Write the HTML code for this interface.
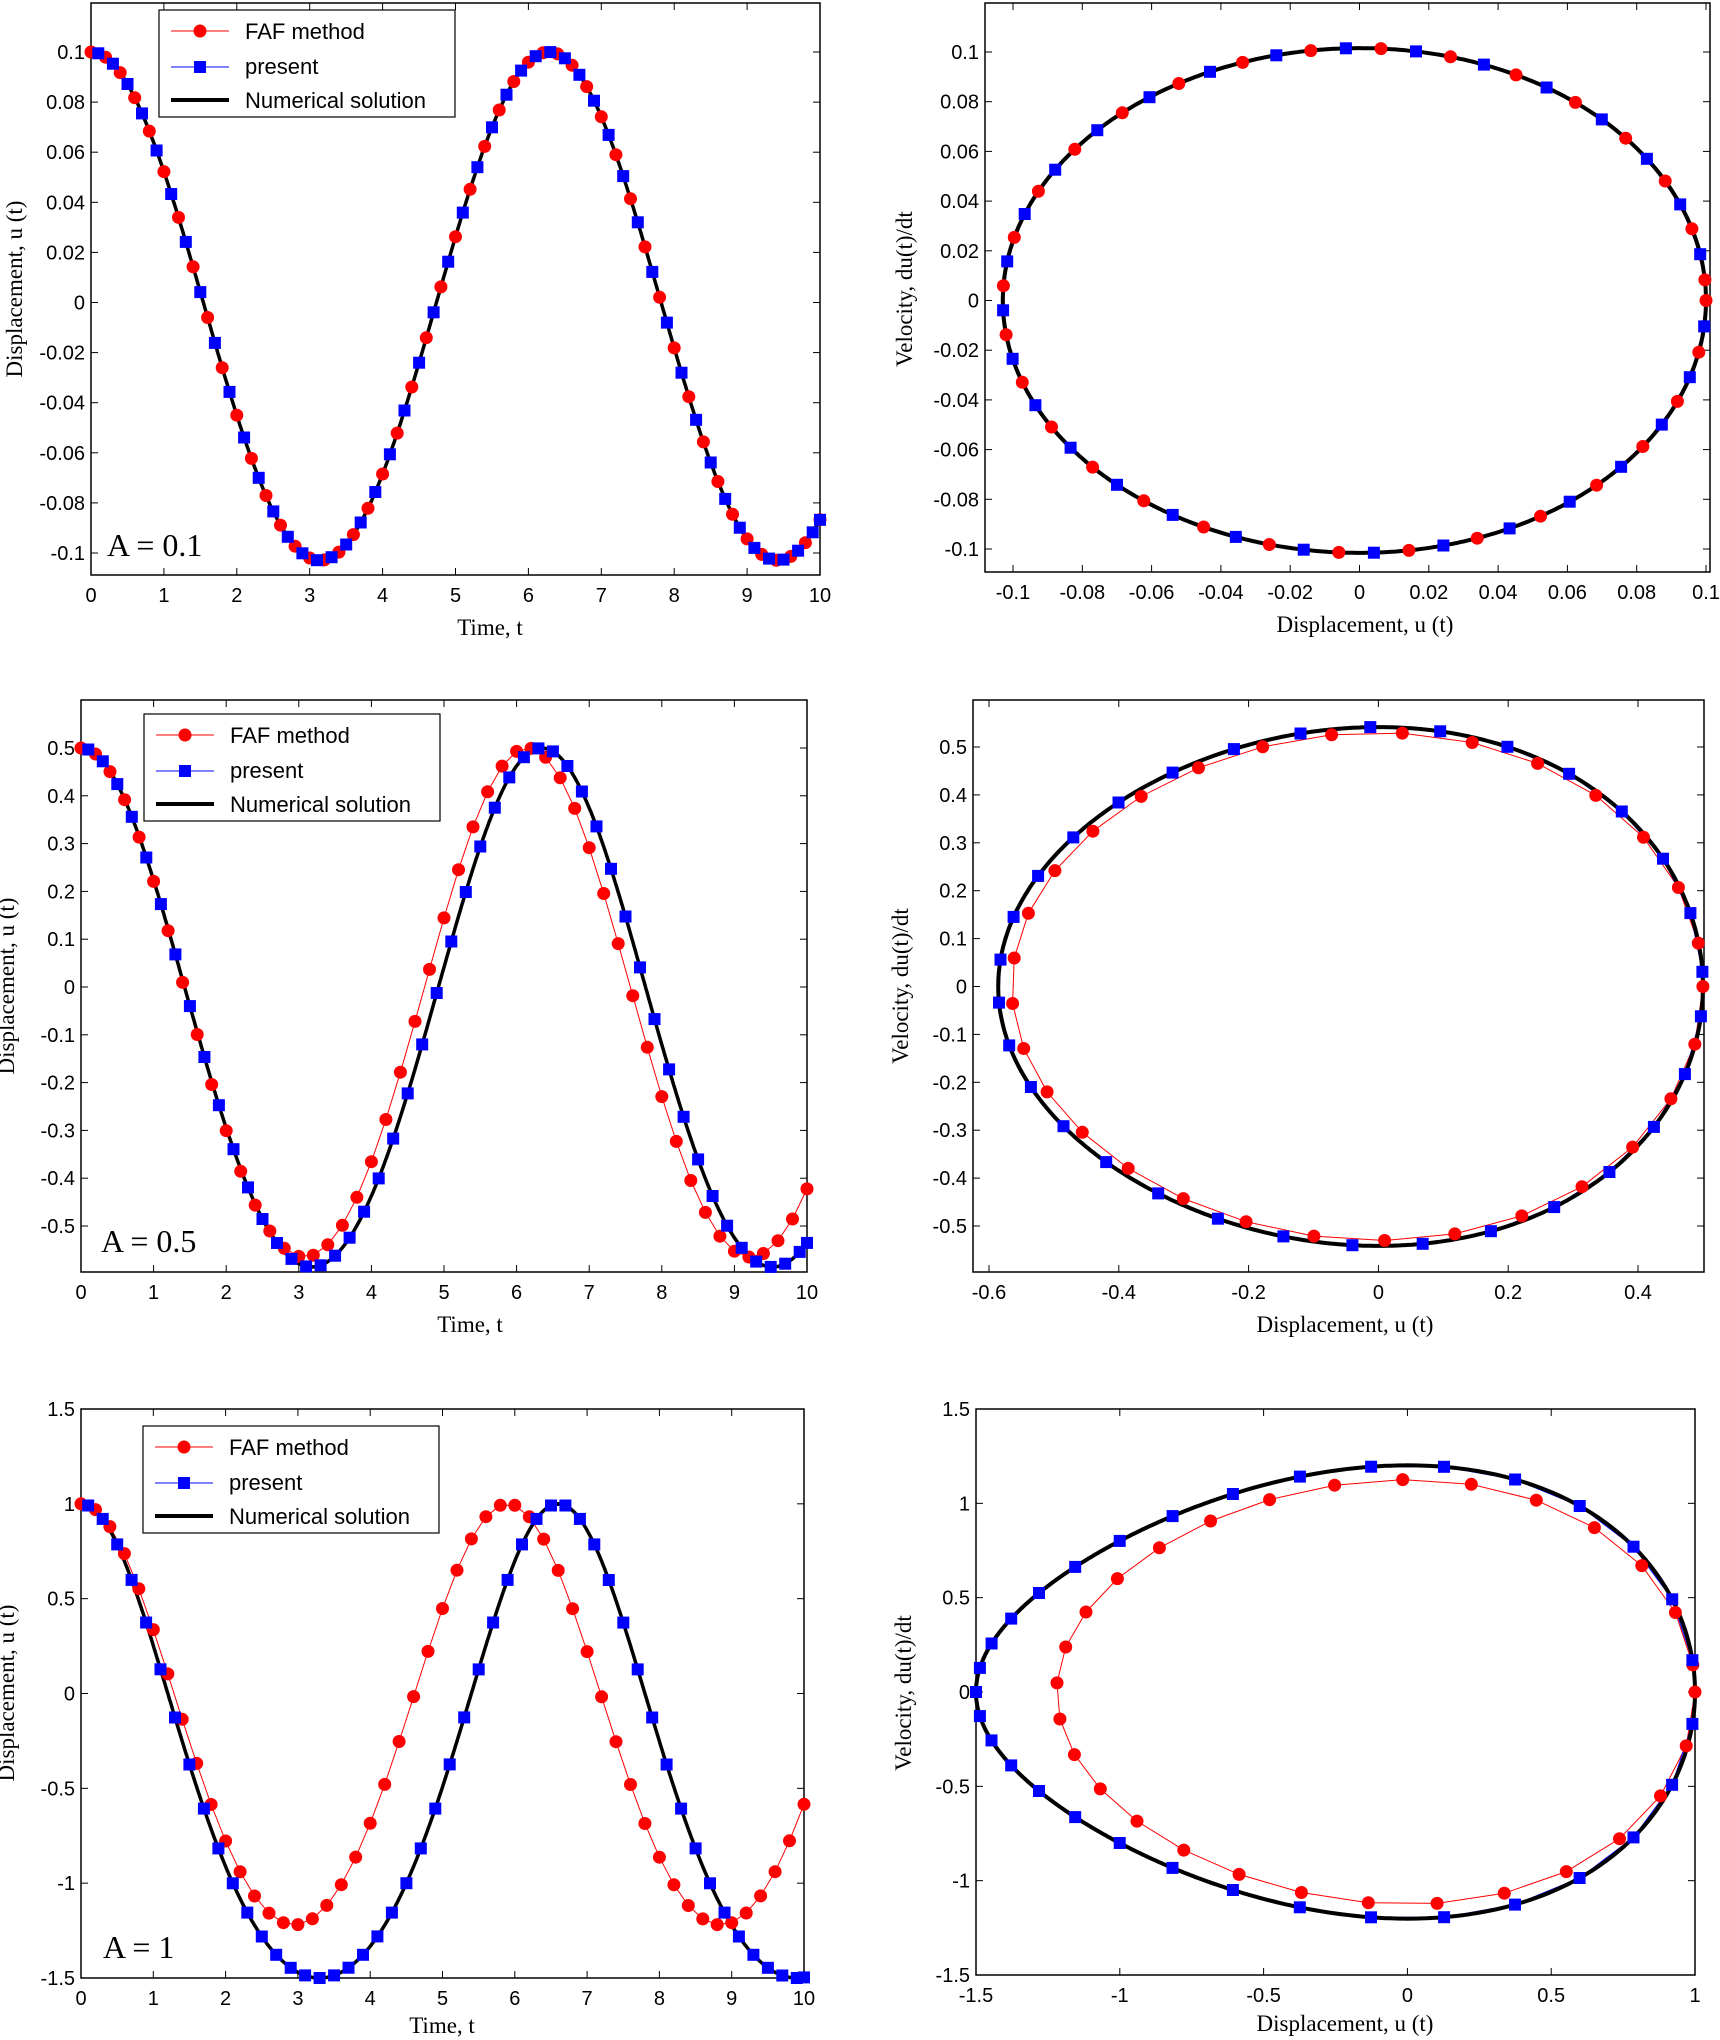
<!DOCTYPE html>
<html><head><meta charset="utf-8">
<style>
html,body{margin:0;padding:0;background:#fff;}
svg{display:block;}
.tk{font-family:"Liberation Sans",Arial,sans-serif;font-size:20px;fill:#000;}
.lb{font-family:"Liberation Serif","DejaVu Serif",serif;font-size:23px;fill:#000;}
.lg{font-family:"Liberation Sans",Arial,sans-serif;font-size:22px;fill:#000;}
.an{font-family:"Liberation Serif","DejaVu Serif",serif;font-size:32px;fill:#000;}
</style></head>
<body>
<svg id="s" width="1720" height="2040" viewBox="0 0 1720 2040" xmlns="http://www.w3.org/2000/svg"></svg>
<script>
const S=document.getElementById('s');
let out='';
function integ(alpha,A,T,tmax,vs){
  const dt=0.0005;let u=A,v=0,t=0,wasNeg=false,TU=0;
  const f=(u)=>-u-alpha*u*u;
  function step(){const k1u=v,k1v=f(u);const k2u=v+dt/2*k1v,k2v=f(u+dt/2*k1u);
    const k3u=v+dt/2*k2v,k3v=f(u+dt/2*k2u);const k4u=v+dt*k3v,k4v=f(u+dt*k3u);
    u+=dt/6*(k1u+2*k2u+2*k3u+k4u);v+=dt/6*(k1v+2*k2v+2*k3v+k4v);t+=dt;}
  while(true){const vp=v;step();if(v<0)wasNeg=true;if(wasNeg&&vp>0&&v<=0){TU=t;break;}if(t>50)break;}
  const k=TU/T;
  u=A;v=0;t=0;const U=[],V=[];
  const N=Math.ceil(tmax*k/dt)+2;
  for(let i=0;i<N;i++){U.push(u);V.push(v);step();}
  return (tt)=>{const idx=Math.min(Math.round(tt*k/dt),N-1);return [U[idx],V[idx]*k*vs];};
}
function mk(x0,v0,x1,v1,y0,w0,y1,w1){return {X:(x)=>x0+(x-v0)*(x1-x0)/(v1-v0),Y:(y)=>y0+(y-w0)*(y1-y0)/(w1-w0)};}
function line(pts,color,w){out+=`<polyline fill="none" stroke="${color}" stroke-width="${w}" stroke-linejoin="round" points="${pts.map(p=>p[0].toFixed(1)+','+p[1].toFixed(1)).join(' ')}"/>`;}
function circ(x,y){out+=`<circle cx="${x.toFixed(1)}" cy="${y.toFixed(1)}" r="6.5" fill="#ff0000"/>`;}
function sq(x,y){out+=`<rect x="${(x-6).toFixed(1)}" y="${(y-6).toFixed(1)}" width="12" height="12" fill="#0000ff"/>`;}
function axes(b,m,xt,yt,xfmt,yfmt){
  out+=`<rect x="${b.L}" y="${b.T}" width="${b.R-b.L}" height="${b.B-b.T}" fill="none" stroke="#000" stroke-width="1.5"/>`;
  for(const x of xt){const px=m.X(x);out+=`<line x1="${px}" y1="${b.B}" x2="${px}" y2="${b.B-7}" stroke="#000"/><line x1="${px}" y1="${b.T}" x2="${px}" y2="${b.T+7}" stroke="#000"/>`;
    out+=`<text class="tk" x="${px}" y="${b.B+27}" text-anchor="middle">${xfmt(x)}</text>`;}
  for(const y of yt){const py=m.Y(y);out+=`<line x1="${b.L}" y1="${py}" x2="${b.L+7}" y2="${py}" stroke="#000"/><line x1="${b.R}" y1="${py}" x2="${b.R-7}" y2="${py}" stroke="#000"/>`;
    out+=`<text class="tk" x="${b.L-6}" y="${py+7}" text-anchor="end">${yfmt(y)}</text>`;}
}
function fmt(v){return (Math.round(v*1000)/1000).toString();}
function rng(a,b,s){const r=[];for(let x=a;x<=b+1e-9;x+=s)r.push(Math.round(x*1000)/1000);return r;}
function legend(x,y){
  out+=`<rect x="${x}" y="${y}" width="296" height="107" fill="#fff" stroke="#000" stroke-width="1.2"/>`;
  out+=`<line x1="${x+12}" y1="${y+21}" x2="${x+70}" y2="${y+21}" stroke="#ff0000" stroke-width="1"/>`;circ(x+41,y+21);
  out+=`<text class="lg" x="${x+86}" y="${y+29}">FAF method</text>`;
  out+=`<line x1="${x+12}" y1="${y+57}" x2="${x+70}" y2="${y+57}" stroke="#0000ff" stroke-width="1"/>`;sq(x+41,y+57);
  out+=`<text class="lg" x="${x+86}" y="${y+64}">present</text>`;
  out+=`<line x1="${x+12}" y1="${y+90}" x2="${x+70}" y2="${y+90}" stroke="#000" stroke-width="4"/>`;
  out+=`<text class="lg" x="${x+86}" y="${y+98}">Numerical solution</text>`;
}
const cases=[
 {A:0.1,bk:[3/7,6.28,1],rd:[3/7,6.28,1],
  tb:{L:91,R:820,T:3,B:575},tm:mk(91,0,820,10,52,0.1,553,-0.1),yt:rng(-0.1,0.1,0.02),
  pb:{L:985,R:1710,T:3,B:572},pm:mk(1013,-0.1,1706,0.1,52,0.1,549,-0.1),pxt:rng(-0.1,0.1,0.02),pyt:rng(-0.1,0.1,0.02),
  leg:[159,10],ann:[107,556,'A = 0.1'],tl:[490,635],pl:[1365,632],yl:[22,289],pyl:[912,289]},
 {A:0.5,bk:[3/7,6.35,1],rd:[0.34,6.15,0.97],
  tb:{L:81,R:807,T:700,B:1272},tm:mk(81,0,807,10,748,0.5,1226,-0.5),yt:rng(-0.5,0.5,0.1),
  pb:{L:973,R:1704,T:700,B:1272},pm:mk(989,-0.6,1638,0.4,747,0.5,1226,-0.5),pxt:rng(-0.6,0.4,0.2),pyt:rng(-0.5,0.5,0.1),
  leg:[144,714],ann:[101,1252,'A = 0.5'],tl:[470,1332],pl:[1345,1332],yl:[14,986],pyl:[908,986]},
 {A:1,bk:[3/7,6.6,0.945],rd:[0.26,5.9,0.94],
  tb:{L:81,R:804,T:1409,B:1978},tm:mk(81,0,804,10,1409,1.5,1978,-1.5),yt:rng(-1.5,1.5,0.5),
  pb:{L:976,R:1695,T:1409,B:1975},pm:mk(976,-1.5,1695,1,1409,1.5,1975,-1.5),pxt:rng(-1.5,1,0.5),pyt:rng(-1.5,1.5,0.5),
  leg:[143,1426],ann:[103,1958,'A = 1'],tl:[442,2033],pl:[1345,2031],yl:[14,1693],pyl:[911,1693]}
];
for(const c of cases){
  const fb=integ(c.bk[0],c.A,c.bk[1],10.5,c.bk[2]), fr=integ(c.rd[0],c.A,c.rd[1],10.5,c.rd[2]);
  axes(c.tb,c.tm,rng(0,10,1),c.yt,(x)=>String(x),fmt);
  axes(c.pb,c.pm,c.pxt,c.pyt,fmt,fmt);
  const tbk=[];const rt=[],bt=[];
  for(let t=0;t<=10.0001;t+=0.2)rt.push(t);
  for(let t=0.1;t<=10.0001;t+=0.2)bt.push(t);bt.push(10);
  for(let t=0;t<=10.0001;t+=0.02)tbk.push([c.tm.X(t),c.tm.Y(fb(t)[0])]);
  line(rt.map(t=>[c.tm.X(t),c.tm.Y(fr(t)[0])]),'#ff0000',1);
  line(bt.map(t=>[c.tm.X(t),c.tm.Y(fb(t)[0])]),'#0000ff',1);
  line(tbk,'#000',3.5);
  rt.forEach(t=>circ(c.tm.X(t),c.tm.Y(fr(t)[0])));
  bt.forEach(t=>sq(c.tm.X(t),c.tm.Y(fb(t)[0])));
  // phase panel: one period only
  const prt=rt.filter(t=>t<=c.rd[1]+0.01), pbt=bt.filter(t=>t<=c.bk[1]+0.01);
  const pbk=[];for(let t=0;t<=c.bk[1]+0.05;t+=0.01){const s=fb(t);pbk.push([c.pm.X(s[0]),c.pm.Y(s[1])]);}
  line(prt.map(t=>{const s=fr(t);return [c.pm.X(s[0]),c.pm.Y(s[1])];}),'#ff0000',1);
  line(pbt.map(t=>{const s=fb(t);return [c.pm.X(s[0]),c.pm.Y(s[1])];}),'#0000ff',1);
  line(pbk,'#000',4);
  prt.forEach(t=>{const s=fr(t);circ(c.pm.X(s[0]),c.pm.Y(s[1]));});
  pbt.forEach(t=>{const s=fb(t);sq(c.pm.X(s[0]),c.pm.Y(s[1]));});
  legend(c.leg[0],c.leg[1]);
  out+=`<text class="an" x="${c.ann[0]}" y="${c.ann[1]}">${c.ann[2]}</text>`;
  out+=`<text class="lb" x="${c.tl[0]}" y="${c.tl[1]}" text-anchor="middle">Time, t</text>`;
  out+=`<text class="lb" x="${c.pl[0]}" y="${c.pl[1]}" text-anchor="middle">Displacement, u (t)</text>`;
  out+=`<text class="lb" transform="translate(${c.yl[0]},${c.yl[1]}) rotate(-90)" text-anchor="middle">Displacement, u (t)</text>`;
  out+=`<text class="lb" transform="translate(${c.pyl[0]},${c.pyl[1]}) rotate(-90)" text-anchor="middle">Velocity, du(t)/dt</text>`;
}
S.innerHTML=out;
</script>
</body></html>
